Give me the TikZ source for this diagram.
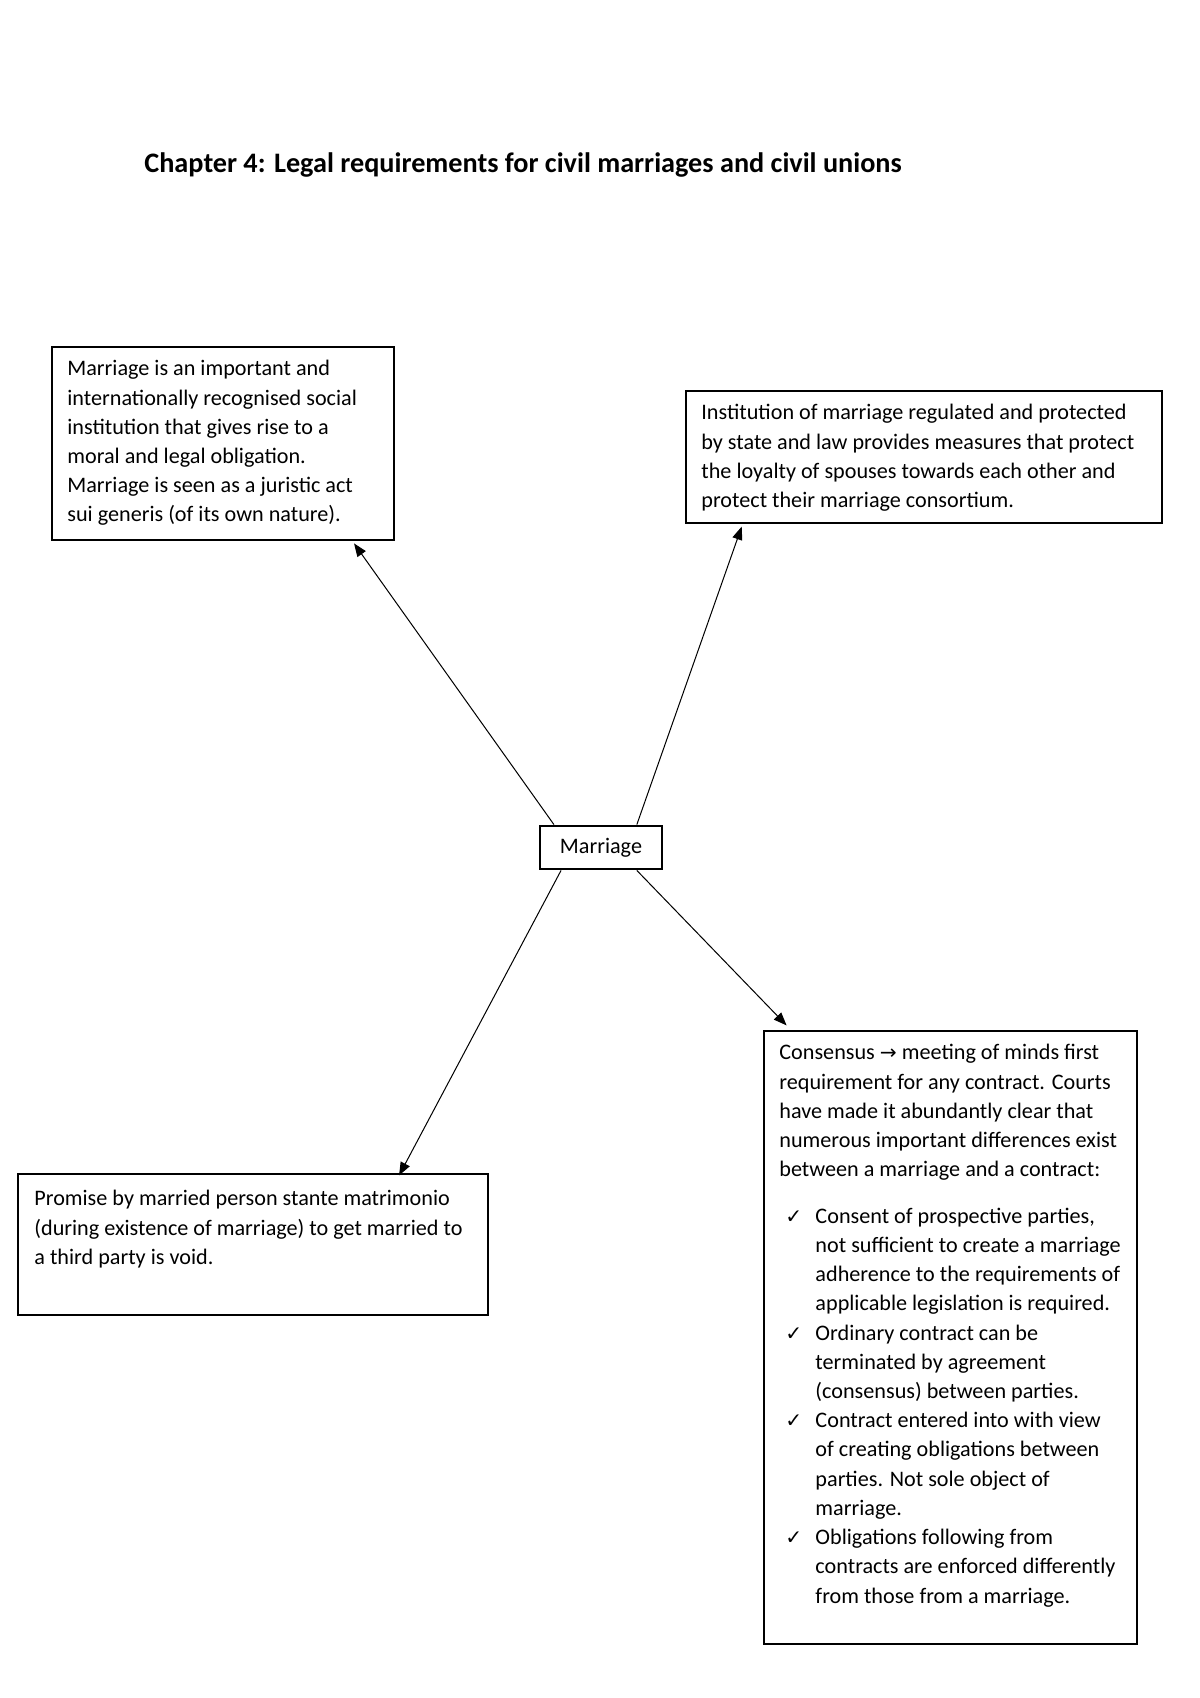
\documentclass[tikz,border=0pt]{standalone}
\usepackage{fontspec}
\setmainfont{Carlito}
\newfontfamily\symfont{DejaVu Sans}
\usetikzlibrary{arrows.meta,fit,calc}
\newcommand{\ckm}{\hspace*{3pt}\makebox[14.9pt][l]{\symfont\fontsize{10}{10}\selectfont ✓}}
\newcommand{\indt}{\hspace*{17.9pt}}
\begin{document}
\begin{tikzpicture}[x=0.49606pt,y=-0.49606pt,
  box/.style={draw,inner sep=0pt,line width=0.6pt},
  thickbox/.style={draw,inner sep=0pt,line width=1.4pt},
  txt/.style={anchor=north west,inner sep=0pt,align=left,font=\fontsize{11}{14.5}\selectfont},
  arr/.style={line width=0.5pt,-{Triangle[length=6.5pt,width=5pt]}}]
\useasboundingbox[fill=white] (0,0) rectangle (1200,1698);
% title
\node[anchor=base west,inner sep=0pt,font=\fontsize{14}{17}\selectfont\bfseries] (title) at (144,172)
  {Chapter 4: Legal requirements for civil marriages and civil unions};
% boxes
\node[thickbox,fit={(52,347) (394,540)}] (b1) {};
\node[box,fit={(686,391) (1162,523)}] (b2) {};
\node[thickbox,fit={(540,826) (662,869)}] (m) {};
\node[box,fit={(18,1174) (488,1315)}] (b3) {};
\node[box,fit={(764,1031) (1137,1644)}] (b4) {};
% texts
\node[font=\fontsize{11}{14.5}\selectfont,inner sep=0pt] (mt) at (m.center) {Marriage};
\node[txt] (t1) at (67,360) {Marriage is an important and\\
internationally recognised social\\
institution that gives rise to a\\
moral and legal obligation.\\
Marriage is seen as a juristic act\\
sui generis (of its own nature).};
\node[txt] (t2) at (701,404) {Institution of marriage regulated and protected\\
by state and law provides measures that protect\\
the loyalty of spouses towards each other and\\
protect their marriage consortium.};
\node[txt] (t3) at (34,1190) {Promise by married person stante matrimonio\\
(during existence of marriage) to get married to\\
a third party is void.};
\node[txt] (t4) at (779,1044) {Consensus {\symfont\fontsize{10}{10}\selectfont →} meeting of minds first\\
requirement for any contract. Courts\\
have made it abundantly clear that\\
numerous important differences exist\\
between a marriage and a contract:\\[8.5pt]
\ckm Consent of prospective parties,\\
\indt not sufficient to create a marriage\\
\indt adherence to the requirements of\\
\indt applicable legislation is required.\\
\ckm Ordinary contract can be\\
\indt terminated by agreement\\
\indt (consensus) between parties.\\
\ckm Contract entered into with view\\
\indt of creating obligations between\\
\indt parties. Not sole object of\\
\indt marriage.\\
\ckm Obligations following from\\
\indt contracts are enforced differently\\
\indt from those from a marriage.};
% connectors
\draw[arr] ($(m.north west)!0.123!(m.north east)$) -- ($(b1.south west)!0.88!(b1.south east)+(0,2)$);
\draw[arr] ($(m.north west)!0.787!(m.north east)$) -- ($(b2.south west)!0.118!(b2.south east)+(0,3)$);
\draw[arr] ($(m.south west)!0.18!(m.south east)$) -- ($(b3.north west)!0.81!(b3.north east)+(0,2)$);
\draw[arr] ($(m.south west)!0.787!(m.south east)$) -- ($(b4.north west)!0.062!(b4.north east)+(0,-5)$);
\end{tikzpicture}
\end{document}
